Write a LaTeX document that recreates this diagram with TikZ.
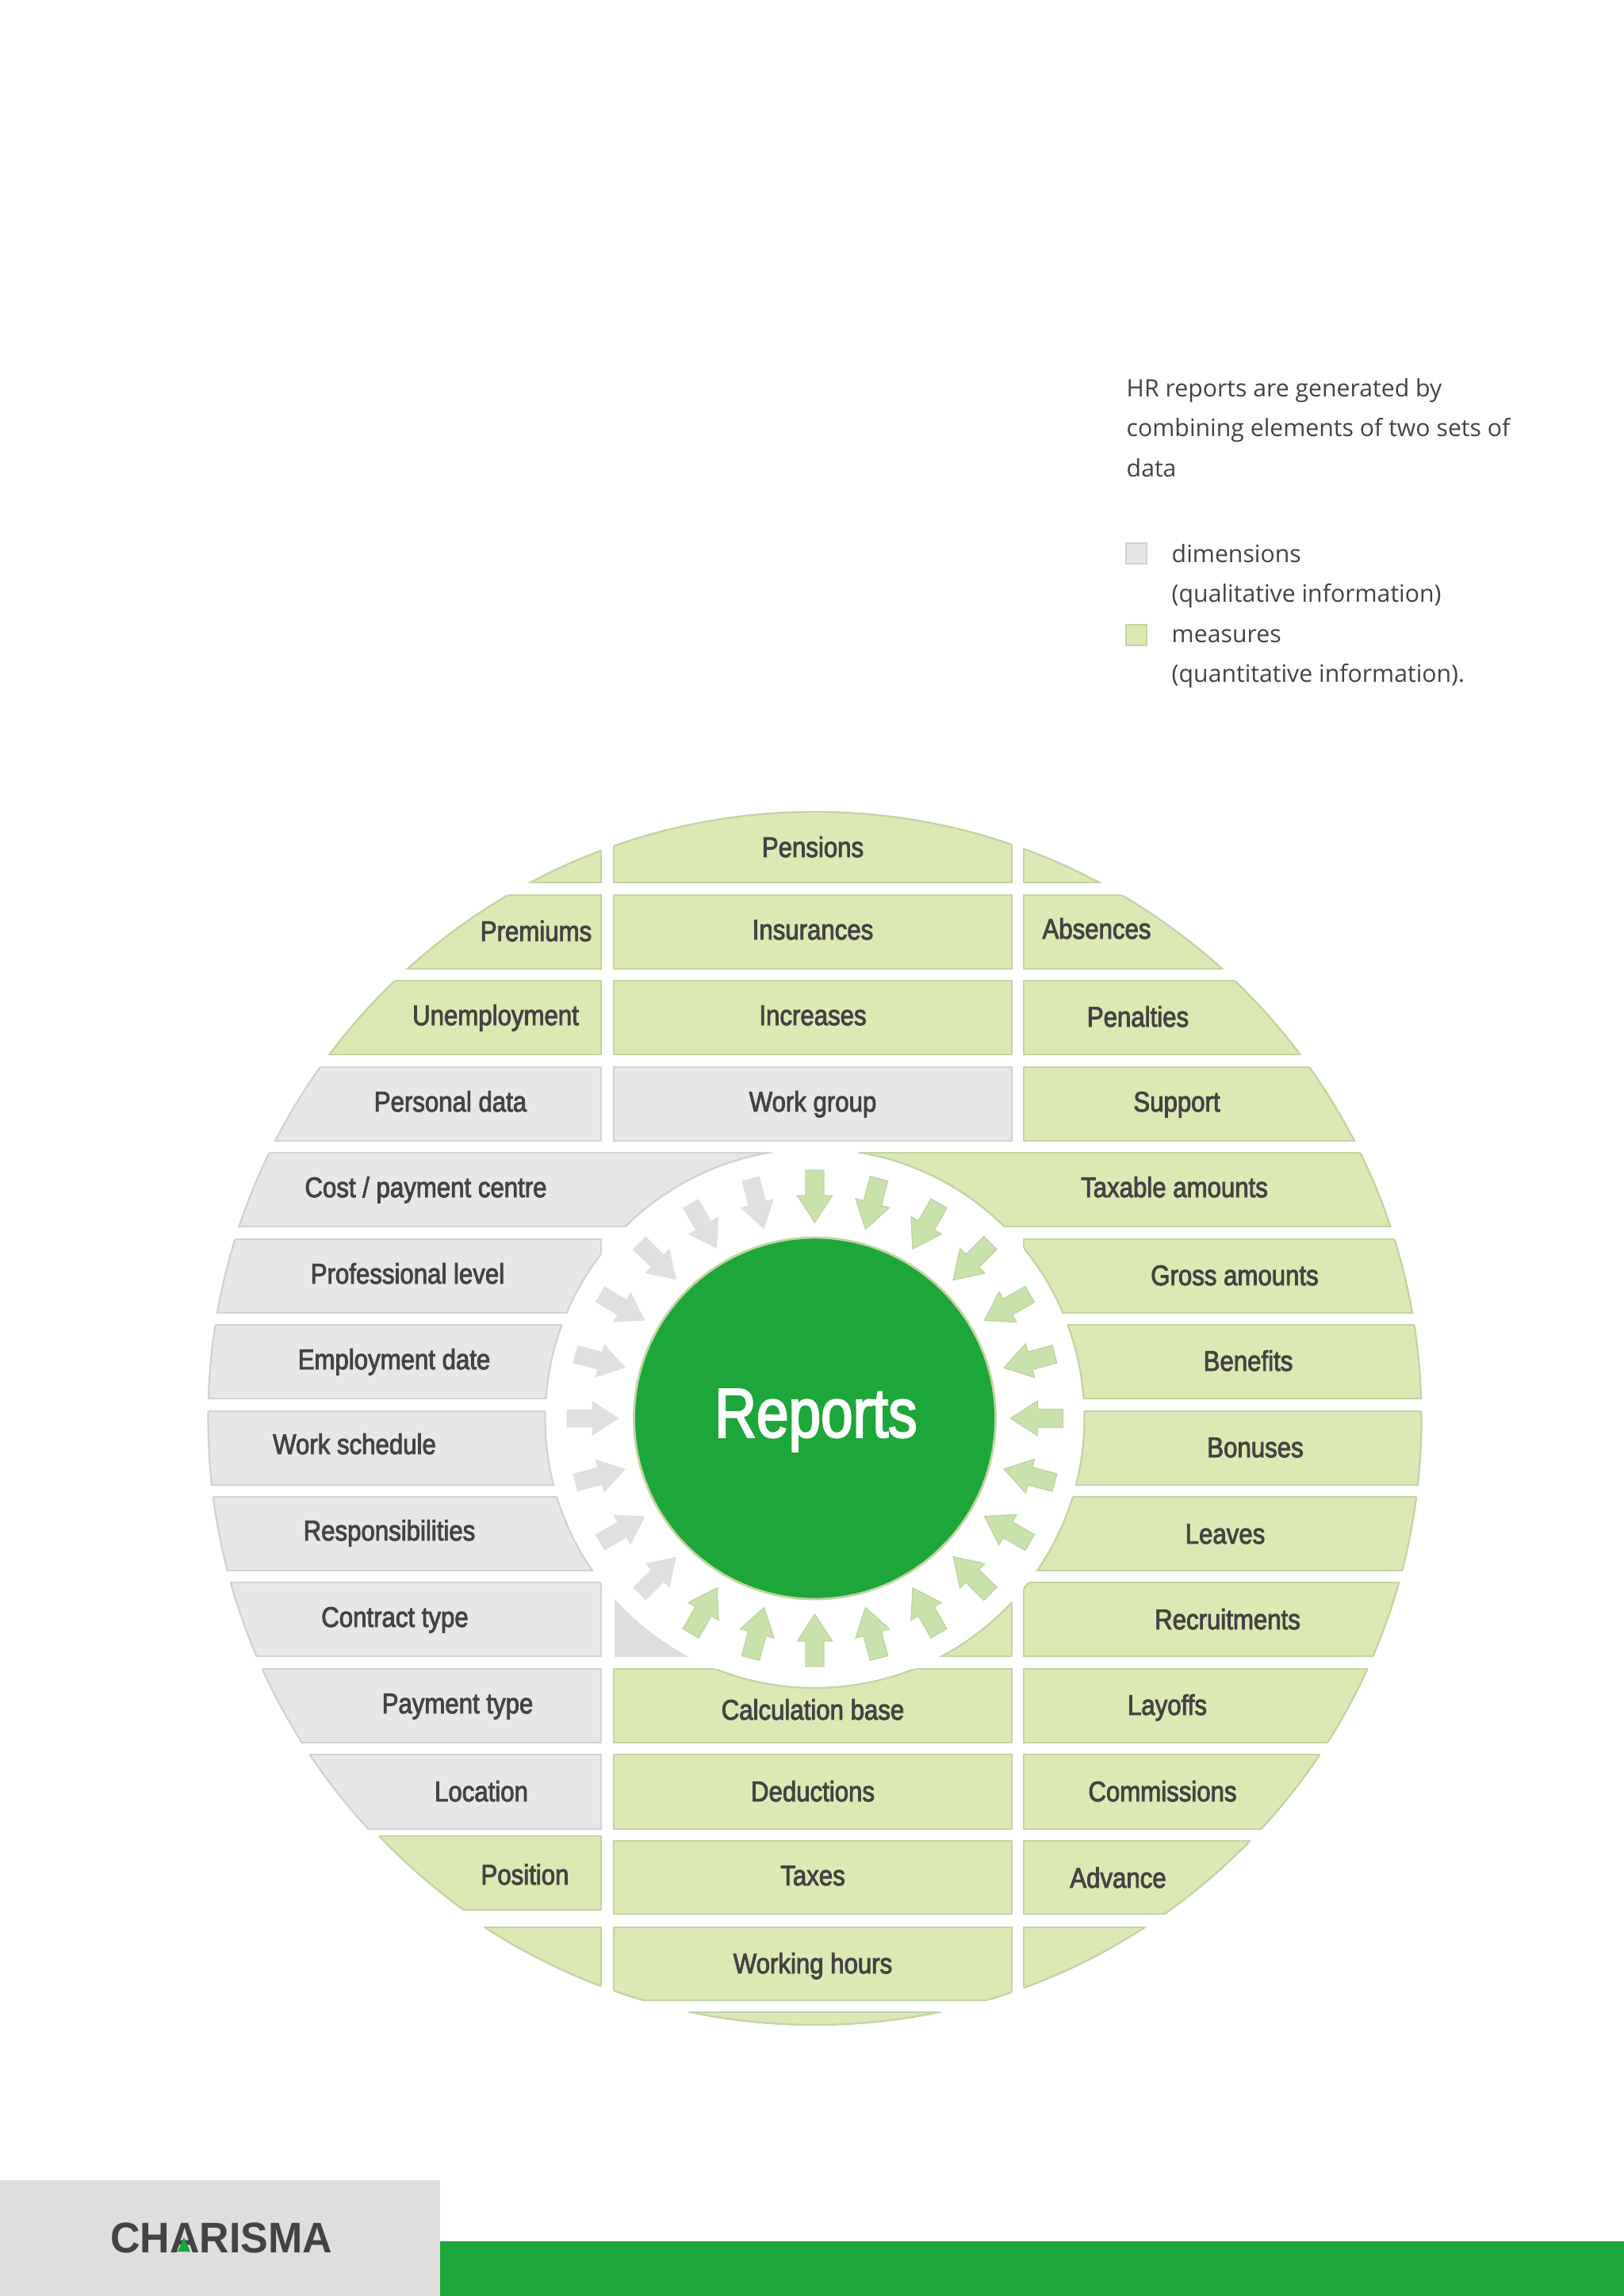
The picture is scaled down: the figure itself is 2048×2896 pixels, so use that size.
\documentclass[tikz,border=0pt]{standalone}
\usepackage{fontspec}
\usepackage{xcolor}
\newfontfamily\labelfont[FakeStretch=.87,FakeBold=2.5]{Liberation Sans}
\newfontfamily\titlefont[FakeStretch=.83,FakeBold=2.5]{Liberation Sans}
\newfontfamily\logofont[FakeStretch=.96,BoldFont={Liberation Sans Bold}]{Liberation Sans}
\newfontfamily\notefont{Open Sans}
\definecolor{brandgreen}{HTML}{1DA639}
\definecolor{cellgreen}{HTML}{DCE9B4}
\definecolor{edgegreen}{HTML}{C2D4A3}
\definecolor{arrowgreen}{HTML}{C8E2AC}
\definecolor{cellgray}{HTML}{E7E7E7}
\definecolor{edgegray}{HTML}{D2D2D2}
\definecolor{textgray}{HTML}{434343}
\tikzset{
greencell/.style={fill=cellgreen,draw=edgegreen,line width=.65pt},
graycell/.style={fill=cellgray,draw=edgegray,line width=.65pt},
graypatch/.style={fill=cellgray!96!black},
greenarrow/.style={fill=arrowgreen,draw=edgegreen,line width=.4pt},
grayarrow/.style={fill=black!12},
celltext/.style={font=\labelfont\fontsize{10.2}{12}\selectfont,text=textgray,inner sep=0pt,text height=7.4pt,text depth=0pt},
notetext/.style={font=\notefont\fontsize{8.6}{14.3}\selectfont,text=textgray,inner sep=0pt,align=left,anchor=north west}
}
% one band of the ring, cut to the rectangle given
\newcommand{\ringcell}[5]{
\begin{scope}
\clip (#2,#3) rectangle (#4,#5);
\path[#1,even odd rule] (hub) circle (765) (hub) circle (340);
\end{scope}
\begin{scope}[even odd rule]
\clip (hub) circle (765) (hub) circle (340);
\path[#1,fill=none] (#2,#3) rectangle (#4,#5);
\end{scope}
}
\begin{document}
\begin{tikzpicture}[x=.1mm,y=-.1mm]
\useasboundingbox (0,0) rectangle (2048,2896);
% the Position band sits a little off the ring
\coordinate (hub) at (1033,1789);
\ringcell{greencell}{200}{2316}{758}{2409}
\coordinate (hub) at (1027.5,1789);

% bands, row by row
\foreach \ya/\yb/\lstyle/\cstyle/\rstyle in {
1000/1113/greencell/greencell/greencell,
1129/1222/greencell/greencell/greencell,
1237/1330/greencell/greencell/greencell,
1346/1439/graycell/graycell/greencell,
2105/2198/graycell/greencell/greencell,
2213/2307/graycell/greencell/greencell,
2431/2523/greencell/greencell/greencell}{
\ringcell{\lstyle}{200}{\ya}{758}{\yb}
\ringcell{\cstyle}{774}{\ya}{1276}{\yb}
\ringcell{\rstyle}{1291}{\ya}{1850}{\yb}
}
\foreach \ya/\yb in {1563/1656,1671/1764,1780/1873,1888/1981,1996/2089}{
\ringcell{graycell}{200}{\ya}{758}{\yb}
\ringcell{greencell}{1291}{\ya}{1850}{\yb}
}
\ringcell{graycell}{200}{1454}{1027.5}{1547}
\ringcell{greencell}{1027.5}{1454}{1850}{1547}
\ringcell{graypatch}{775}{1996}{1027.5}{2089}
\ringcell{greencell}{1027.5}{1996}{1276}{2089}
\ringcell{greencell}{774}{2322}{1276}{2414}
\ringcell{greencell}{1291}{2322}{1850}{2414}
\ringcell{greencell}{774}{2538}{1276}{2600}

% arrows
\foreach \a in {105,120,...,225}{
\begin{scope}[shift={(hub)},rotate=\a]
\path[grayarrow] (313,-11.5) -- (281,-11.5) -- (281,-22) -- (247,0) -- (281,22) -- (281,11.5) -- (313,11.5) -- cycle;
\end{scope}
}
\foreach \a in {-120,-105,...,90}{
\begin{scope}[shift={(hub)},rotate=\a]
\path[greenarrow] (313,-11.5) -- (281,-11.5) -- (281,-22) -- (247,0) -- (281,22) -- (281,11.5) -- (313,11.5) -- cycle;
\end{scope}
}

\node (reports) [circle,fill=brandgreen,draw=edgegreen,line width=.8pt,minimum size=45.6mm,inner sep=0pt] at (hub) {};
\node (reportstitle) [text=white,inner sep=0pt,text height=18pt,text depth=0pt,font=\titlefont\fontsize{25}{30}\selectfont] at (1029,1781) {Reports};

% left labels
\node (premiums) [celltext] at (676,1174) {Premiums};
\node (unemployment) [celltext] at (625,1280) {Unemployment};
\node (personal) [celltext] at (568,1389) {Personal data};
\node (cost) [celltext] at (537,1497) {Cost / payment centre};
\node (level) [celltext] at (514,1606) {Professional level};
\node (employment) [celltext] at (497,1714) {Employment date};
\node (schedule) [celltext] at (447,1821) {Work schedule};
\node (duties) [celltext] at (491,1930) {Responsibilities};
\node (contract) [celltext] at (498,2039) {Contract type};
\node (payment) [celltext] at (577,2148) {Payment type};
\node (location) [celltext] at (607,2259) {Location};
\node (position) [celltext] at (662,2364) {Position};
% middle labels
\node (pensions) [celltext] at (1025,1068) {Pensions};
\node (insurances) [celltext] at (1025,1172) {Insurances};
\node (increases) [celltext] at (1025,1280) {Increases};
\node (workgroup) [celltext] at (1025,1389) {Work group};
\node (calcbase) [celltext] at (1025,2156) {Calculation base};
\node (deductions) [celltext] at (1025,2259) {Deductions};
\node (taxes) [celltext] at (1025,2365) {Taxes};
\node (hours) [celltext] at (1025,2476) {Working hours};
% right labels
\node (absences) [celltext] at (1383,1171) {Absences};
\node (penalties) [celltext] at (1435,1282) {Penalties};
\node (support) [celltext] at (1484,1389) {Support};
\node (taxable) [celltext] at (1481,1497) {Taxable amounts};
\node (gross) [celltext] at (1557,1608) {Gross amounts};
\node (benefits) [celltext] at (1574,1716) {Benefits};
\node (bonuses) [celltext] at (1583,1825) {Bonuses};
\node (leaves) [celltext] at (1545,1934) {Leaves};
\node (recruitments) [celltext] at (1548,2042) {Recruitments};
\node (layoffs) [celltext] at (1472,2150) {Layoffs};
\node (commissions) [celltext] at (1466,2259) {Commissions};
\node (advance) [celltext] at (1410,2368) {Advance};

% note and legend
\node (intro) [notetext] at (1420,477) {HR reports are generated by\\combining elements of two sets of\\data};
\node (graykey) [graycell,minimum size=2.6mm,inner sep=0pt,anchor=north west] at (1419,684) {};
\node (dimensions) [notetext] at (1477,686) {dimensions\\(qualitative information)};
\node (greenkey) [greencell,minimum size=2.6mm,inner sep=0pt,anchor=north west] at (1419,787) {};
\node (measures) [notetext] at (1477,793) {measures\\(quantitative information).};

% footer
\fill[black!13] (0,2750) rectangle (555,2896);
\fill[brandgreen] (555,2827) rectangle (2048,2896);
\node (logo) [font=\logofont\bfseries\fontsize{15.4}{18}\selectfont,text=textgray,inner sep=0pt,text height=11pt,text depth=0pt] at (279,2822) {CHARISMA};
\fill[brandgreen] (232,2822) -- (240,2840) -- (224,2840) -- cycle;
\end{tikzpicture}
\end{document}
